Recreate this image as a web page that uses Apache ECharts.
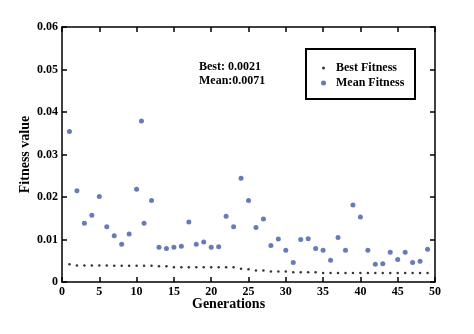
<!DOCTYPE html>
<html>
<head>
<meta charset="utf-8">
<script src="https://cdn.jsdelivr.net/npm/echarts@6/dist/echarts.min.js"></script>
<style>html,body{margin:0;padding:0;background:#fff;}#c{width:474px;height:334px;}</style>
</head>
<body>
<div id="c"></div>
<script>
const bestGenerations = [1,2,3,4,5,6,7,8,9,10,11,12,13,14,15,16,17,18,19,20,21,22,23,24,25,26,27,28,29,30,31,32,33,34,35,36,37,38,39,40,41,42,43,44,45,46,47,48,49];
const bestFitness = [0.0042,0.0039,0.0039,0.0039,0.0039,0.0039,0.0038,0.0038,0.0038,0.0038,0.0038,0.0038,0.0037,0.0037,0.0035,0.0035,0.0035,0.0035,0.0035,0.0035,0.0035,0.0035,0.0035,0.0031,0.0030,0.0027,0.0027,0.0025,0.0025,0.0025,0.0023,0.0023,0.0023,0.0023,0.0021,0.0021,0.0021,0.0021,0.0021,0.0021,0.0021,0.0021,0.0021,0.0021,0.0021,0.0021,0.0021,0.0021,0.0021];
const meanGenerations = [1,2,3,4,5,6,7,8,9,10,10.65,11,12,13,14,15,16,17,18,19,20,21,22,23,24,25,26,27,28,29,30,31,32,33,34,35,36,37,38,39,40,41,42,43,44,45,46,47,48,49];
const meanFitness = [0.0354,0.0215,0.0138,0.0157,0.0201,0.0130,0.0109,0.0089,0.0113,0.0218,0.0379,0.0138,0.0192,0.0082,0.0079,0.0082,0.0084,0.0141,0.0089,0.0094,0.0082,0.0083,0.0155,0.0130,0.0244,0.0192,0.0128,0.0148,0.0086,0.0101,0.0075,0.0046,0.0100,0.0102,0.0079,0.0075,0.0051,0.0105,0.0075,0.0181,0.0153,0.0075,0.0042,0.0043,0.0070,0.0053,0.0070,0.0046,0.0049,0.0077];
const xTickInterval = 5;
const yTickInterval = 0.01;
const annotationLines = ['Best: 0.0021', 'Mean:0.0071'];

const font = '"Liberation Serif", "DejaVu Serif", serif';
const chart = echarts.init(document.getElementById('c'));
const tickStyle = {show: true, inside: true, length: 5, lineStyle: {color: '#000', width: 1.5}};
const lineStyle = {show: true, onZero: false, lineStyle: {color: '#000', width: 1.5}};
chart.setOption({
  animation: false,
  backgroundColor: '#fff',
  grid: {left: 62, right: 39, top: 27, bottom: 52},
  xAxis: [
    {type: 'value', min: 0, max: 50, interval: xTickInterval, position: 'bottom',
     axisLine: lineStyle, axisTick: tickStyle, splitLine: {show: false},
     axisLabel: {color: '#000', fontFamily: font, fontWeight: 'bold', fontSize: 12, margin: 4}},
    {type: 'value', min: 0, max: 50, interval: xTickInterval, position: 'top',
     axisLine: lineStyle, axisTick: tickStyle, splitLine: {show: false}, axisLabel: {show: false}}
  ],
  yAxis: [
    {type: 'value', min: 0, max: 0.06, interval: yTickInterval, position: 'left',
     name: 'Fitness value', nameLocation: 'middle', nameGap: 30, nameMoveOverlap: false,
     nameTextStyle: {color: '#000', fontFamily: font, fontWeight: 'bold', fontSize: 14},
     axisLine: lineStyle, axisTick: tickStyle, splitLine: {show: false},
     axisLabel: {color: '#000', fontFamily: font, fontWeight: 'bold', fontSize: 12, margin: 4,
       formatter: v => v === 0 ? '0' : v.toFixed(2)}},
    {type: 'value', min: 0, max: 0.06, interval: yTickInterval, position: 'right',
     axisLine: lineStyle, axisTick: tickStyle, splitLine: {show: false}, axisLabel: {show: false}}
  ],
  legend: [
    {data: [{name: 'Best Fitness', icon: 'circle'}], left: 317, top: 57, orient: 'vertical',
     itemWidth: 3, itemHeight: 3, itemGap: 6,
     textStyle: {color: '#000', fontFamily: font, fontWeight: 'bold', fontSize: 12, padding: [0,0,0,6]}},
    {data: [{name: 'Mean Fitness', icon: 'circle'}], left: 316, top: 72, orient: 'vertical',
     itemWidth: 5, itemHeight: 5,
     textStyle: {color: '#000', fontFamily: font, fontWeight: 'bold', fontSize: 12, padding: [0,0,0,5]}}
  ],
  graphic: [
    {type: 'rect', shape: {x: 306, y: 49, width: 109, height: 50}, style: {fill: 'none', stroke: '#000', lineWidth: 2}, z: 10},
    {type: 'text', left: 199, top: 60, style: {text: annotationLines.join('\n'), fill: '#000', font: 'bold 12px ' + font, lineHeight: 14}},
    {type: 'text', left: 192, top: 297, style: {text: 'Generations', fill: '#000', font: 'bold 14px ' + font}}
  ],
  series: [
    {name: 'Best Fitness', type: 'scatter', symbol: 'circle', symbolSize: 2.5,
     itemStyle: {color: '#000'},
     data: bestGenerations.map((g, i) => [g, bestFitness[i]])},
    {name: 'Mean Fitness', type: 'scatter', symbol: 'circle', symbolSize: 5,
     itemStyle: {color: '#3f5ba5'},
     data: meanGenerations.map((g, i) => [g, meanFitness[i]])}
  ]
});
</script>
</body>
</html>
